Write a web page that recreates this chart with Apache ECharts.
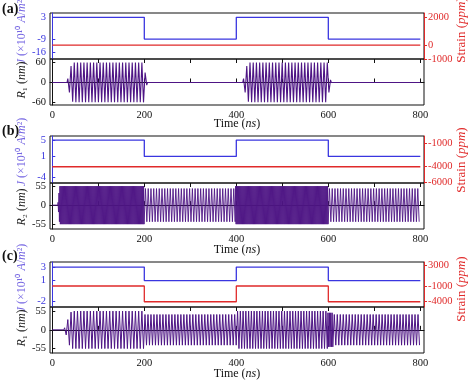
<!DOCTYPE html>
<html><head><meta charset="utf-8">
<script src="https://cdn.jsdelivr.net/npm/echarts@6/dist/echarts.min.js"></script>
<style>html,body{margin:0;padding:0;background:#fff}#c{width:474px;height:384px}</style>
</head><body><div id="c"></div>
<script>
// ---------------- data ----------------
const stepTimes = [0, 200, 400, 600, 800];
const timeTicks = [0, 100, 200, 300, 400, 500, 600, 700, 800];
const timeLabels = [0, 200, 400, 600, 800];

const currentA = [3, -9, 3, -9];
const strainA = [0, 0, 0, 0];
const currentB = [5, 1, 5, 1];
const strainB = [-4000, -4000, -4000, -4000];
const currentC = [3, 1, 3, 1];
const strainC = [-1000, -4000, -1000, -4000];

const jTicksA = [3, -9, -16];
const jTicksB = [5, 1, -4];
const jTicksC = [3, 1, -2];
const sTicksA = [2000, 0, -1000];
const sTicksB = [-1000, -4000, -6000];
const sTicksC = [3000, -1000, -4000];
const rTicksA = [60, 0, -60];
const rTicksB = [55, 0, -55];
const rTicksC = [55, 0, -55];

// oscillation runs: [start ns, end ns, period ns, peak amplitude nm]
const runsA = [[32, 200, 7, 60], [414, 600, 7, 60]];
const onsetA = [12, 30, 50, 58];   // first peaks after a rest
const tailA = [30, 8];             // peaks after a burst ends
const runsB = [[12, 200, 2, 55], [200, 400, 6, 48], [400, 600, 2, 55], [600, 800, 6, 48]];
const onsetB = [8, 20, 35, 48];
const tailB = [];
const runsC = [[25, 200, 7, 55], [200, 400, 6.5, 45], [400, 600, 6, 55], [600, 610, 3, 50], [610, 800, 6.5, 45]];
const onsetC = [6, 15, 30, 45, 52];
const tailC = [];

// ---------------- building ----------------
function steps(vals) {
  const out = [];
  vals.forEach((v, i) => { out.push([stepTimes[i], v]); out.push([stepTimes[i + 1], v]); });
  return out;
}
function buildTrace(runs, onset, tail, endTime) {
  const pts = [[0, 0]];
  let sign = 1, lastT = 0, prevEnd = 0;
  runs.forEach((run, r) => {
    const [start, end, period, amp] = run;
    const half = period / 2;
    const afterRest = start > prevEnd;
    let t;
    if (afterRest) { pts.push([start, 0]); sign = 1; t = start + period / 4; }
    else { t = lastT + half; }
    let k = 0;
    while (t < end) {
      const a = (afterRest && k < onset.length) ? onset[k] : amp;
      pts.push([t, sign * a]); sign = -sign; lastT = t; t += half; k++;
    }
    const nextStart = r + 1 < runs.length ? runs[r + 1][0] : endTime;
    if (nextStart > end) {
      tail.forEach(a => { pts.push([t, sign * a]); sign = -sign; lastT = t; t += half; });
      pts.push([lastT + half / 2, 0]);
      prevEnd = lastT + half / 2;
    } else prevEnd = end;
  });
  if (pts[pts.length - 1][0] < endTime && pts[pts.length - 1][1] === 0) pts.push([endTime, 0]);
  return pts;
}

const FONT = 'Liberation Serif';
const BLUE = '#3a36e0', RED = '#e02a2a', PURPLE = '#4e1585', JCOL = '#7566e2';
const X0 = -5, X1 = 808;
const plain = v => String(v);

const panels = [
  { top: 13, mid: 59, bot: 105, jr: [-20, 5.4], sr: [-1000, 2300], rr: [-68, 71],
    cur: currentA, str: strainA, jt: jTicksA, st: sTicksA, rt: rTicksA,
    trace: buildTrace(runsA, onsetA, tailA, 800), sub: '₁', letter: '(a)', lw: 1.1,
    letterY: 2, jY: 30, rY: 80, sY: 30, timeY: 124 },
  { top: 136, mid: 183, bot: 229, jr: [-5.5, 6], sr: [-6060, -110], rr: [-69, 64],
    cur: currentB, str: strainB, jt: jTicksB, st: sTicksB, rt: rTicksB,
    trace: buildTrace(runsB, onsetB, tailB, 800), sub: '₂', letter: '(b)', lw: 0.9,
    letterY: 124, jY: 152, rY: 207, sY: 160, timeY: 250 },
  { top: 262, mid: 307, bot: 353, jr: [-2.9, 3.75], sr: [-5000, 3570], rr: [-68, 67],
    cur: currentC, str: strainC, jt: jTicksC, st: sTicksC, rt: rTicksC,
    trace: buildTrace(runsC, onsetC, tailC, 800), sub: '₁', letter: '(c)', lw: 1.0,
    letterY: 249, jY: 278, rY: 328, sY: 289, timeY: 374 }
];

const grid = [], xAxis = [], yAxis = [], series = [], graphic = [];
const lblStyle = (c) => ({ fontFamily: FONT, fontSize: 10.5, color: c });

panels.forEach((p, i) => {
  const gTop = 2 * i, gBot = 2 * i + 1;
  grid.push({ left: 50, width: 374, top: p.top, height: p.mid - p.top, show: true, borderColor: '#111', borderWidth: 1, containLabel: false });
  grid.push({ left: 50, width: 374, top: p.mid, height: p.bot - p.mid, show: true, borderColor: '#111', borderWidth: 1, containLabel: false });

  const xTop = xAxis.length;
  xAxis.push({ type: 'value', gridIndex: gTop, min: X0, max: X1, axisLine: { show: false }, axisTick: { show: false }, axisLabel: { show: false }, splitLine: { show: false } });
  const xBot = xAxis.length;
  xAxis.push({ type: 'value', gridIndex: gBot, min: X0, max: X1, position: 'bottom',
    axisLine: { show: true, lineStyle: { color: '#111' } },
    axisTick: { show: true, inside: true, length: 4, customValues: timeTicks, lineStyle: { color: '#111' } },
    axisLabel: { show: true, customValues: timeLabels, margin: 5, formatter: plain, ...lblStyle('#111') },
    splitLine: { show: false } });
  xAxis.push({ type: 'value', gridIndex: gBot, min: X0, max: X1, position: 'top',
    axisLine: { show: false },
    axisTick: { show: true, inside: true, length: 4, customValues: timeTicks, lineStyle: { color: '#111' } },
    axisLabel: { show: false }, splitLine: { show: false } });

  const yJ = yAxis.length;
  yAxis.push({ type: 'value', gridIndex: gTop, position: 'left', min: p.jr[0], max: p.jr[1],
    axisLine: { show: true, lineStyle: { color: BLUE } },
    axisTick: { show: true, inside: true, length: 3, customValues: p.jt, lineStyle: { color: BLUE } },
    axisLabel: { show: true, customValues: p.jt, margin: 4, formatter: plain, ...lblStyle(BLUE) },
    splitLine: { show: false } });
  const yS = yAxis.length;
  yAxis.push({ type: 'value', gridIndex: gTop, position: 'right', min: p.sr[0], max: p.sr[1],
    axisLine: { show: true, lineStyle: { color: RED } },
    axisTick: { show: true, inside: false, length: 3, customValues: p.st, lineStyle: { color: RED } },
    axisLabel: { show: true, customValues: p.st, margin: 4, formatter: plain, ...lblStyle(RED) },
    splitLine: { show: false } });
  const yR = yAxis.length;
  yAxis.push({ type: 'value', gridIndex: gBot, position: 'left', min: p.rr[0], max: p.rr[1],
    axisLine: { show: true, lineStyle: { color: '#111' } },
    axisTick: { show: true, inside: true, length: 3, customValues: p.rt, lineStyle: { color: '#111' } },
    axisLabel: { show: true, customValues: p.rt, margin: 4, formatter: plain, ...lblStyle('#111') },
    splitLine: { show: false } });

  series.push({ type: 'line', xAxisIndex: xTop, yAxisIndex: yS, data: steps(p.str), showSymbol: false, symbol: 'none', lineStyle: { color: RED, width: 1.3 }, animation: false, z: 3 });
  series.push({ type: 'line', xAxisIndex: xTop, yAxisIndex: yJ, data: steps(p.cur), showSymbol: false, symbol: 'none', lineStyle: { color: BLUE, width: 1.3 }, animation: false, z: 4 });
  series.push({ type: 'line', xAxisIndex: xBot, yAxisIndex: yR, data: p.trace, showSymbol: false, symbol: 'none', lineStyle: { color: PURPLE, width: p.lw }, animation: false, z: 3 });

  const ital = (sz) => ({ fontStyle: 'italic', fontSize: sz, fontFamily: FONT });
  const norm = (sz) => ({ fontStyle: 'normal', fontSize: sz, fontFamily: FONT });
  graphic.push({ type: 'text', x: 2, y: p.letterY, style: { text: p.letter, fontSize: 14, fontWeight: 'bold', fontFamily: FONT, fill: '#111' } });
  graphic.push({ type: 'text', x: 22, y: p.jY, rotation: Math.PI / 2,
    style: { text: '{i|J} {n|(×10¹⁰ }{i|A}{n|/}{i|m}{n|²)}', rich: { i: ital(12), n: norm(12) }, fontSize: 12, fontFamily: FONT, fill: JCOL, align: 'center', verticalAlign: 'middle' } });
  graphic.push({ type: 'text', x: 22, y: p.rY, rotation: Math.PI / 2,
    style: { text: '{i|R}{n|' + p.sub + ' (}{i|nm}{n|)}', rich: { i: ital(12), n: norm(12) }, fontSize: 12, fontFamily: FONT, fill: '#222', align: 'center', verticalAlign: 'middle' } });
  graphic.push({ type: 'text', x: 462, y: p.sY, rotation: Math.PI / 2,
    style: { text: '{n|Strain (}{i|ppm}{n|)}', rich: { i: ital(13), n: norm(13) }, fontSize: 13, fontFamily: FONT, fill: RED, align: 'center', verticalAlign: 'middle' } });
  graphic.push({ type: 'text', x: 237, y: p.timeY,
    style: { text: '{n|Time (}{i|ns}{n|)}', rich: { i: ital(12), n: norm(12) }, fontSize: 12, fontFamily: FONT, fill: '#111', align: 'center', verticalAlign: 'middle' } });
});

const chart = echarts.init(document.getElementById('c'), null, { renderer: 'canvas' });
chart.setOption({ animation: false, backgroundColor: '#fff', grid, xAxis, yAxis, series, graphic });
</script></body></html>
